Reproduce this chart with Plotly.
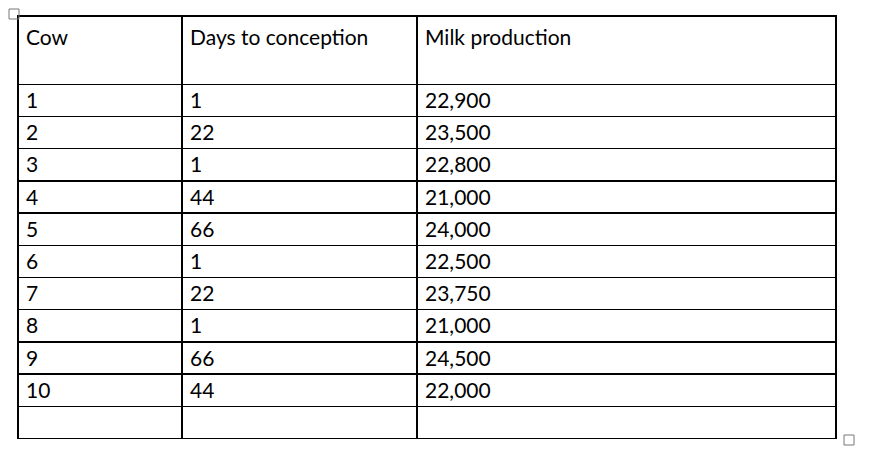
import plotly.graph_objects as go

headers = ["Cow", "Days to conception", "Milk production"]
cows = ["1", "2", "3", "4", "5", "6", "7", "8", "9", "10", ""]
days = ["1", "22", "1", "44", "66", "1", "22", "1", "66", "44", ""]
milk = ["22,900", "23,500", "22,800", "21,000", "24,000", "22,500", "23,750", "21,000", "24,500", "22,000", ""]

W, H = 888, 454
fig = go.Figure(go.Table(
    columnwidth=[164, 235, 419],
    header=dict(values=[h + "<br> " for h in headers], height=52, align="left",
                line=dict(color="black", width=1.5), fill_color="white",
                font=dict(family="Lato", size=21, color="black")),
    cells=dict(values=[cows, days, milk], height=32.2, align="left",
               line=dict(color="black", width=1.5), fill_color="white",
               font=dict(family="Lato", size=21, color="black")),
    domain=dict(x=[10 / W, 828 / W], y=[1 - 440 / H, 1 - 8 / H]),
))
fig.add_shape(type="rect", xref="paper", yref="paper", x0=1/W, x1=11/W, y0=1-11/H, y1=1-1/H,
              line=dict(color="#777", width=1))
fig.add_shape(type="rect", xref="paper", yref="paper", x0=836/W, x1=846/W, y0=1-437/H, y1=1-427/H,
              line=dict(color="#777", width=1))
fig.update_layout(width=W, height=H, margin=dict(l=0, r=0, t=0, b=0),
                  paper_bgcolor="white", plot_bgcolor="white")
fig.write_html("out.html")
